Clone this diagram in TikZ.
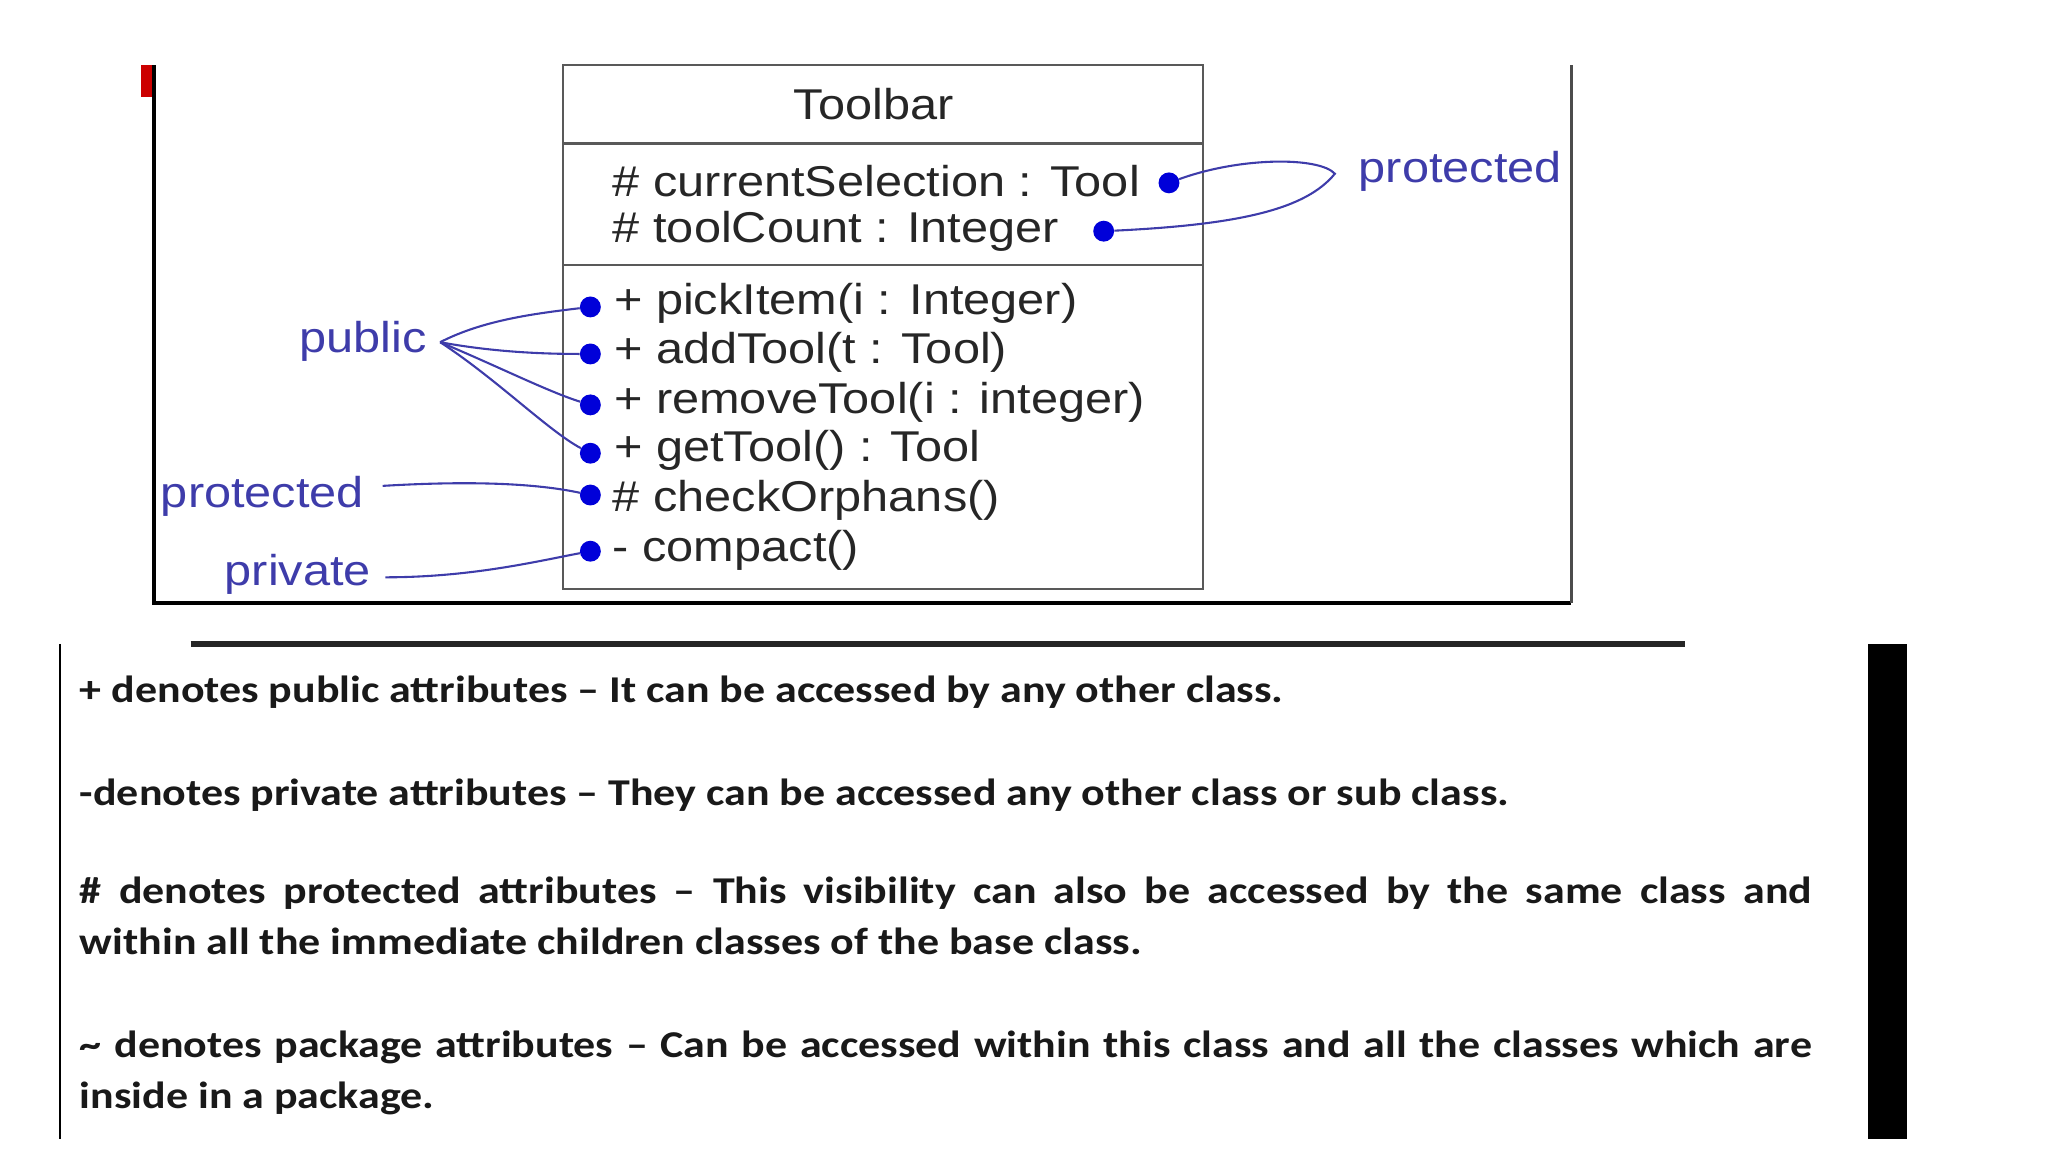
\documentclass[tikz,border=0pt]{standalone}
\usepackage{fontspec}
\setmainfont{Liberation Sans}[FakeStretch=1.13]
\newfontfamily\calib{Carlito}[FakeStretch=1.16]
\begin{document}
\begin{tikzpicture}[x=1pt,y=-1pt,
  lbl/.style={text=vio,font=\fontsize{33}{38}\selectfont,inner sep=0pt},
  mem/.style={anchor=west,font=\fontsize{33}{38}\selectfont,inner sep=0pt,text=black!85},
  dotc/.style={circle,fill=blue!85!black,inner sep=0pt,minimum size=16pt},
  con/.style={vio,line width=1.6pt},
  desc/.style={anchor=west,font=\calib\bfseries\fontsize{29}{39.5}\selectfont,inner sep=0pt,align=left,text=black!90}]
\definecolor{vio}{RGB}{62,60,170}
\useasboundingbox (0,0) rectangle (1568,882);
% top frame
\fill[red!80!black] (108,50) rectangle (118,74);
\draw[line width=3pt] (118,50) -- (118,462) -- (1203,462);
\draw[line width=2pt,black!70] (1203,50) -- (1203,462);
% class box
\draw[line width=1.8pt,black!65] (431,50) rectangle (921,451);
\draw[line width=1.8pt,black!65] (431,110) -- (921,110);
\draw[line width=1.8pt,black!65] (431,203) -- (921,203);
\node[font=\fontsize{33}{38}\selectfont,text=black!85] (title) at (669,80) {Toolbar};
\node[mem] (a1) at (469,139) {\# currentSelection : Tool};
\node[mem] (a2) at (469,177) {\# toolCount : Integer};
\node[mem] (m1) at (470,232) {+ pickItem(i : Integer)};
\node[mem] (m2) at (470,270) {+ addTool(t : Tool)};
\node[mem] (m3) at (470,308) {+ removeTool(i : integer)};
\node[mem] (m4) at (470,345) {+ getTool() : Tool};
\node[mem] (m5) at (469,383) {\# checkOrphans()};
\node[mem] (m6) at (469,421) {- compact()};
% dots
\node[dotc] (d1) at (895,140) {};
\node[dotc] (d2) at (845,177) {};
\node[dotc] (e1) at (452,235) {};
\node[dotc] (e2) at (452,271) {};
\node[dotc] (e3) at (452,310) {};
\node[dotc] (e4) at (452,347) {};
\node[dotc] (e5) at (452,379) {};
\node[dotc] (e6) at (452,422) {};
% labels
\node[lbl] (lp) at (1118,131) {protected};
\node[lbl] (lpub) at (278,261) {public};
\node[lbl] (lprot) at (201,380) {protected};
\node[lbl] (lpriv) at (228,440) {private};
\coordinate (tip) at (1022,133);
\coordinate (hub) at (337,262);
% connectors
\draw[con] (d1) .. controls (950,120) and (1010,120) .. (tip) .. controls (1000,160) and (950,172) .. (d2);
\draw[con] (hub) .. controls (370,245) and (410,240) .. (e1);
\draw[con] (hub) .. controls (380,270) and (420,271) .. (e2);
\draw[con] (hub) .. controls (380,280) and (420,300) .. (e3);
\draw[con] (hub) .. controls (380,290) and (420,330) .. (e4);
\draw[con] (293,372) .. controls (360,368) and (410,370) .. (e5);
\draw[con] (295,442) .. controls (360,442) and (410,430) .. (e6);
% lower panel
\draw[line width=4pt,black!85] (146,493) -- (1290,493);
\draw[line width=2pt] (46,493) -- (46,872);
\fill (1430,493) rectangle (1460,872);
\node[desc] (t1) at (61,530) {+ denotes public attributes – It can be accessed by any other class.};
\node[desc] (t2) at (61,609) {-denotes private attributes – They can be accessed any other class or sub class.};
\node[desc,anchor=north west,text width=1326pt,align=justify] (t3) at (61,671) {\# denotes protected attributes – This visibility can also be accessed by the same class and\linebreak within all the immediate children classes of the base class.};
\node[desc,anchor=north west,text width=1326pt,align=justify] (t4) at (61,789) {\textasciitilde{} denotes package attributes – Can be accessed within this class and all the classes which are inside in a package.};
\end{tikzpicture}
\end{document}
